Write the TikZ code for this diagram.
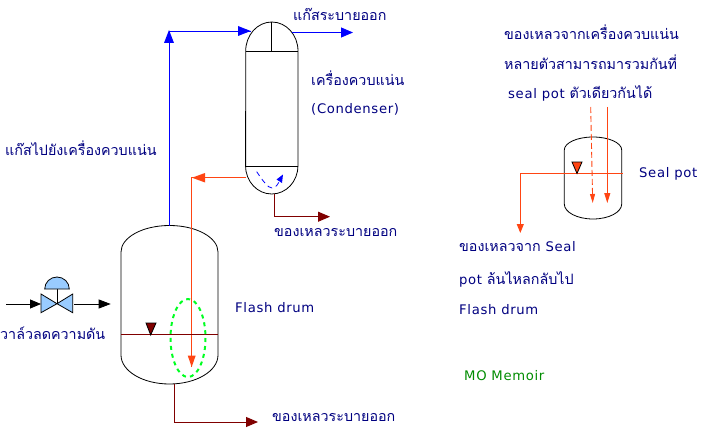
\documentclass[tikz,border=0pt]{standalone}
\usepackage{fontspec}
\setmainfont[Script=Thai]{Loma}
\newfontfamily\latf[LetterSpace=5]{DejaVu Sans}
\newcommand{\lat}[1]{{\latf\fontsize{13.2}{15}\selectfont #1}}
\usetikzlibrary{arrows.meta,calc}
\definecolor{ink}{HTML}{000080}
\definecolor{bl}{HTML}{0000FF}
\definecolor{rd}{HTML}{FF4513}
\definecolor{dr}{HTML}{800000}
\definecolor{lb}{HTML}{99CCFF}
\definecolor{gr}{HTML}{00FF21}
\tikzset{
 lab/.style={anchor=west,inner sep=0pt,text=ink,font=\fontsize{14.3}{16}\selectfont},
 vessel/.style={draw=black,line width=0.8pt},
 flow/.style={line width=0.9pt},
 bluef/.style={flow,draw=bl},
 redf/.style={flow,draw=rd},
 darkf/.style={flow,draw=dr},
 tip/.style={-{Triangle[length=12pt,width=10pt]}},
 smalltip/.style={-{Triangle[length=9pt,width=7pt]}},
 lev/.style={draw=black,line width=0.8pt},
}
\begin{document}
\begin{tikzpicture}[x=1pt,y=-1pt]
\useasboundingbox (0,0) rectangle (702,436);
% coordinates
\coordinate (drumtop) at (169,225.5);
\coordinate (bend1) at (169,31);
\coordinate (condin) at (250.5,31);
\coordinate (gasout0) at (292,32.5);
\coordinate (gasout1) at (353,32.5);
\coordinate (cl0) at (246,177.7);
\coordinate (cl1) at (191.7,177.7);
\coordinate (cl2) at (191.7,367);
\coordinate (cb0) at (274.3,194);
\coordinate (cb1) at (274.3,216.7);
\coordinate (cb2) at (330,216.7);
\coordinate (db0) at (174.3,384);
\coordinate (db1) at (174.3,422);
\coordinate (db2) at (258,422);
\coordinate (in0) at (6,304);
\coordinate (in1) at (41,304);
\coordinate (out0) at (74,304);
\coordinate (out1) at (110.7,304);
% flash drum
\draw[vessel] (121,252) arc[start angle=180,end angle=0,x radius=48.5,y radius=-26.5] -- (218,355)
  arc[start angle=0,end angle=-180,x radius=48.5,y radius=-29] -- cycle;
% condenser
\draw[vessel] (245.7,51) arc[start angle=180,end angle=0,x radius=26.15,y radius=-29] -- (297.9,166)
  arc[start angle=0,end angle=-180,x radius=26.15,y radius=-28] -- cycle;
\draw[vessel] (245.7,51) -- (297.9,51) (245.7,166) -- (297.9,166) (271.7,22) -- (271.7,51);
% seal pot
\draw[vessel] (564.3,150) arc[start angle=180,end angle=0,x radius=28.7,y radius=-13] -- (621.7,204)
  arc[start angle=0,end angle=-180,x radius=28.7,y radius=-15] -- cycle;
% streams
\draw[bluef] (drumtop) -- (bend1) -- (condin);
\fill[bl] (169,30) -- (174,43) -- (164,43) -- cycle;
\fill[bl] (250.7,31) -- (238,26) -- (238,36) -- cycle;
\draw[bluef,tip] (gasout0) -- (gasout1);
\draw[redf] (cl0) -- (cl1) -- (cl2);
\fill[rd] (192,177.7) -- (205,173) -- (205,182.5) -- cycle;
\fill[rd] (191.7,367) -- (187.7,355.5) -- (195.7,355.5) -- cycle;
\draw[darkf] (cb0) -- (cb1);
\draw[darkf,tip] (cb1) -- (cb2);
\draw[darkf] (db0) -- (db1);
\draw[darkf,tip] (db1) -- (db2);
\draw[dr,line width=0.9pt] (121,334) -- (218,334);
\path[fill=dr,lev] (146,323) -- (156,323) -- (150.7,335) -- cycle;
\draw[gr,line width=2pt,dash pattern=on 4pt off 4pt] (188,338) ellipse[x radius=17.5,y radius=39];
% inner dashed curve of condenser
\draw[bl,line width=0.8pt,dash pattern=on 5pt off 4pt] (256.7,171.7) .. controls (263,181) and (268,188) .. (272,188) .. controls (276,188) and (278,184) .. (280,180);
\fill[bl] (283,174.5) -- (282,183) -- (276.5,179.5) -- cycle;
% valve
\draw[line width=0.8pt,-{Triangle[length=11pt,width=9pt]}] (in0) -- (in1);
\draw[line width=0.8pt,-{Triangle[length=12pt,width=9pt]}] (out0) -- (out1);
\draw[vessel,fill=lb] (41,294) -- (57,303.7) -- (41,312.7) -- cycle;
\draw[vessel,fill=lb] (72.7,294) -- (57,303.7) -- (72.7,312.7) -- cycle;
\draw[vessel] (57,303.7) -- (57,289);
\draw[vessel,fill=lb] (44.7,289) arc[start angle=180,end angle=0,x radius=12.3,y radius=-12] -- cycle;
% seal pot streams
\draw[redf] (622.7,173.3) -- (520.3,173.3);
\draw[redf,smalltip] (520.3,173.3) -- (520.3,233);
\path[fill=rd,lev] (572,162) -- (582,162) -- (577,173.5) -- cycle;
\draw[redf,dash pattern=on 6pt off 3pt,-{Triangle[length=9pt,width=5pt]}] (590.7,107) -- (592.7,203);
\draw[redf,-{Triangle[length=10pt,width=6pt]}] (607.3,107) -- (607.3,203);
% labels
\node[lab] (t1) at (293,14) {แก๊สระบายออก};
\node[lab] (t2) at (311,78) {เครื่องควบแน่น};
\node[lab] (t3) at (311,109) {\lat{(Condenser)}};
\node[lab] (t4) at (5,148) {แก๊สไปยังเครื่องควบแน่น};
\node[lab] (t5) at (274,233) {ของเหลวระบายออก};
\node[lab] (t6) at (235,308) {\lat{Flash drum}};
\node[lab] (t7) at (0,333) {วาล์วลดความดัน};
\node[lab] (t8) at (272,418) {ของเหลวระบายออก};
\node[lab] (t9) at (504,32) {ของเหลวจากเครื่องควบแน่น};
\node[lab] (t10) at (504,62) {หลายตัวสามารถมารวมกันที่};
\node[lab] (t11) at (508,93) {\lat{seal pot} ตัวเดียวกันได้};
\node[lab] (t12) at (639,174) {\lat{Seal pot}};
\node[lab] (t13) at (459,247) {ของเหลวจาก \lat{Seal}};
\node[lab] (t14) at (459,279) {\lat{pot} ล้นไหลกลับไป};
\node[lab] (t15) at (459,310) {\lat{Flash drum}};
\node[lab,text=green!55!black] (t16) at (464,376) {\lat{MO Memoir}};
\end{tikzpicture}
\end{document}
